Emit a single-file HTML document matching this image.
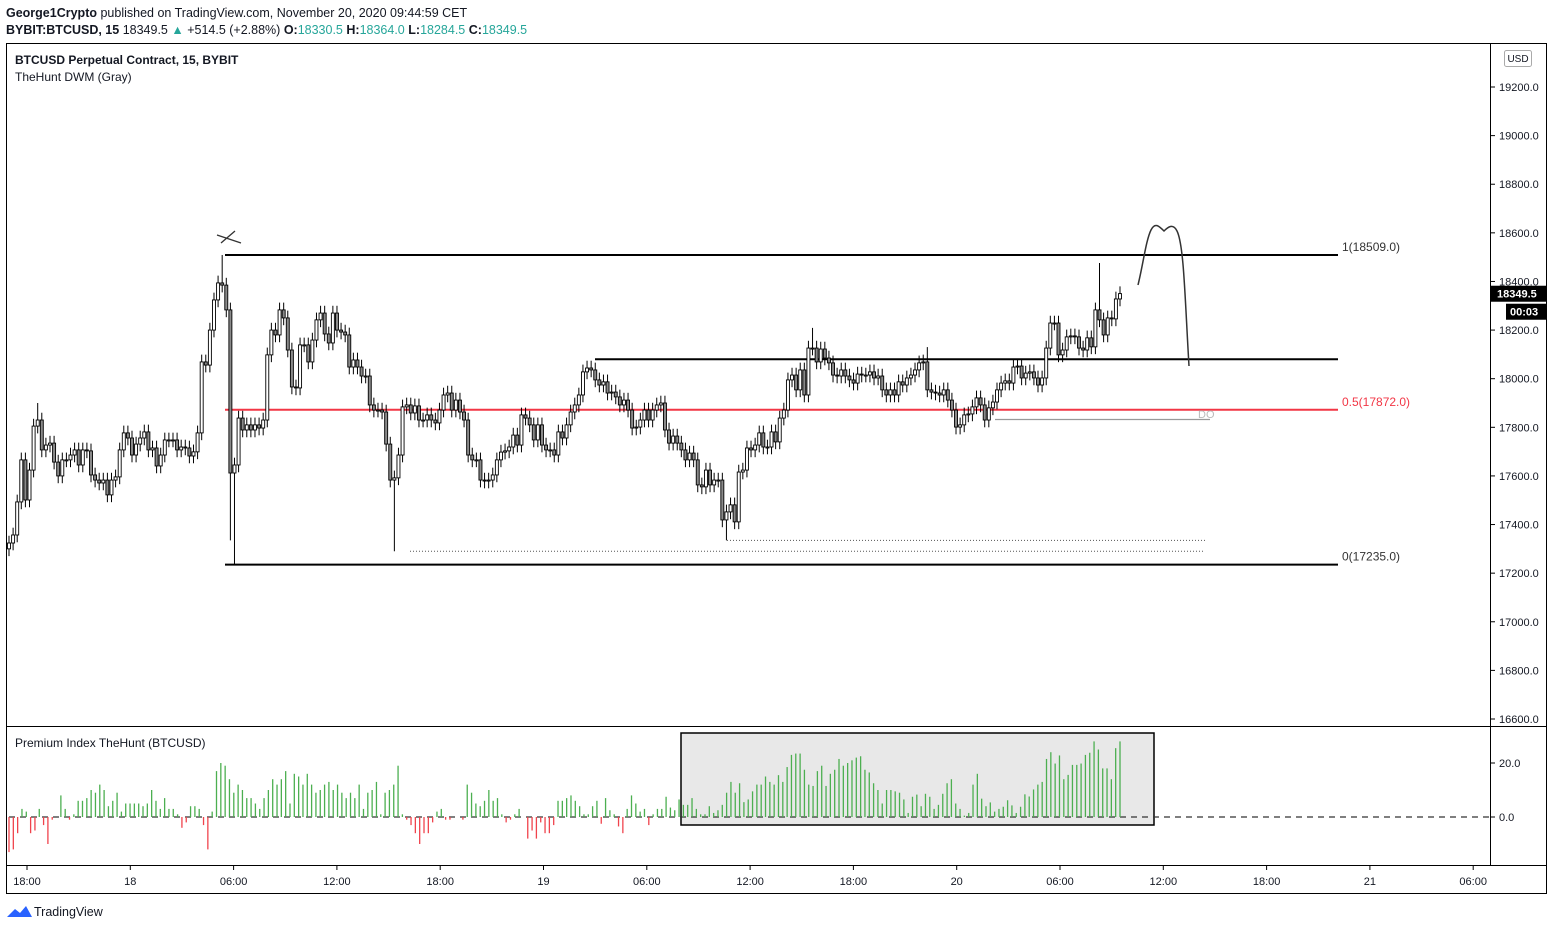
<!DOCTYPE html>
<html><head><meta charset="utf-8"><style>
body{margin:0;background:#fff;width:1553px;height:930px;overflow:hidden;font-family:"Liberation Sans",sans-serif;}
svg{position:absolute;left:0;top:0}
</style></head><body>
<svg id="c" width="1553" height="930" xmlns="http://www.w3.org/2000/svg">
<text x="6" y="17" font-size="12.5" fill="#131722"><tspan font-weight="bold">George1Crypto</tspan> published on TradingView.com, November 20, 2020 09:44:59 CET</text>
<text x="6" y="34" font-size="12.5" fill="#131722"><tspan font-weight="bold">BYBIT:BTCUSD, 15</tspan> 18349.5 <tspan fill="#26a69a">▲</tspan> +514.5 (+2.88%) <tspan font-weight="bold">O:</tspan><tspan fill="#26a69a">18330.5</tspan> <tspan font-weight="bold">H:</tspan><tspan fill="#26a69a">18364.0</tspan> <tspan font-weight="bold">L:</tspan><tspan fill="#26a69a">18284.5</tspan> <tspan font-weight="bold">C:</tspan><tspan fill="#26a69a">18349.5</tspan></text>
<rect x="6.5" y="43.5" width="1540" height="850" fill="none" stroke="#000" stroke-width="1"/>
<line x1="1490.5" y1="44" x2="1490.5" y2="865" stroke="#000"/>
<line x1="6" y1="726.5" x2="1547" y2="726.5" stroke="#000"/>
<line x1="6" y1="865.5" x2="1547" y2="865.5" stroke="#000"/>
<text x="15" y="64" font-size="12" font-weight="bold" fill="#131722">BTCUSD Perpetual Contract, 15, BYBIT</text>
<text x="15" y="81" font-size="12" fill="#131722">TheHunt DWM (Gray)</text>
<rect x="1504.5" y="50.5" width="27" height="16" fill="#fff" stroke="#aaa" rx="2"/>
<text x="1518" y="62" font-size="10" text-anchor="middle" fill="#131722">USD</text>
<text x="15" y="747" font-size="12" fill="#131722">Premium Index TheHunt (BTCUSD)</text>
<rect x="681" y="733" width="473" height="92" fill="#e8e8e8" stroke="#000" stroke-width="1.5"/>
<g id="g"></g>
<g>
<path d="M7 917 l8 -8 l5 4 l6 -7 l6 11 z" fill="#2962ff"/>
<text x="34" y="916" font-size="12.5" fill="#131722">TradingView</text>
</g>
</svg>
<script>
const closes=[17324,17357,17493,17666,17501,17624,17805,17830,17707,17727,17735,17657,17600,17666,17666,17686,17707,17645,17707,17703,17604,17583,17571,17583,17522,17583,17596,17707,17777,17756,17686,17731,17756,17781,17707,17715,17641,17686,17748,17748,17748,17707,17719,17715,17682,17699,17777,18069,18056,18200,18324,18394,18385,18283,17612,17645,17838,17789,17810,17789,17810,17797,17830,18098,18200,18180,18283,18250,18118,17966,17962,18139,18139,18069,18159,18242,18270,18184,18147,18270,18200,18192,18180,18048,18077,18048,18011,18011,17892,17871,17871,17863,17731,17583,17592,17686,17884,17892,17859,17888,17830,17830,17851,17830,17818,17871,17933,17941,17871,17912,17863,17830,17686,17666,17666,17583,17579,17583,17604,17666,17698,17703,17719,17768,17727,17851,17838,17810,17748,17810,17727,17707,17707,17686,17781,17756,17810,17863,17892,17933,18028,18044,18036,17995,17974,17987,17941,17945,17925,17892,17912,17871,17797,17801,17830,17871,17830,17871,17892,17900,17789,17735,17764,17735,17707,17666,17694,17666,17563,17555,17624,17563,17583,17583,17419,17452,17481,17411,17616,17624,17715,17707,17727,17777,17719,17719,17781,17740,17838,17871,17995,18015,17954,18036,17933,18126,18126,18069,18122,18085,18065,18015,18011,18036,18011,17995,17982,18019,18015,18015,18028,18003,18011,17954,17933,17954,17933,17987,17974,18003,18015,18036,18065,18069,17954,17945,17941,17933,17954,17912,17871,17801,17810,17851,17855,17884,17921,17892,17830,17880,17904,17954,17982,17991,17982,18048,18052,18003,18023,18028,18003,17974,18003,18126,18229,18229,18098,18118,18172,18176,18172,18126,18118,18168,18131,18283,18242,18180,18250,18246,18328,18350];
const firstOpen=17300;
const wick=30;
const specialHighs={7:17900,52:18509,196:18209,224:18130,266:18476};
const specialLows={54:17335,55:17235,94:17290,175:17335};
const premium=[-13,-12,-6,3,2,-6,-5,3,-3,-10,-1,0,8,3,-1,1,6,6,7,10,9,12,10,4,6,9,2,5,5,5,5,4,5,10,6,3,7,3,3,1,-4,-2,4,4,3,-3,-12,2,17,20,19,14,9,12,10,7,7,5,3,7,10,14,12,14,17,5,16,15,12,16,12,9,10,12,13,10,12,9,7,9,7,12,3,9,10,13,1,9,10,12,19,1,-1,-3,-6,-10,-6,-6,-2,2,3,-1,-1,0,0,-1,12,9,5,4,6,10,6,7,1,-2,-1,1,3,0,-8,-5,-8,-2,-6,-6,-3,6,6,7,8,6,4,1,1,4,6,-2.5,7,2.5,1,-3.5,-6,3,8,5,2,3,-3,1,3,3,7.5,3.5,2.5,6.5,4.5,4.5,7,3,1,1,4,1.5,2.5,4.5,9,13,9,12.5,5.5,6.5,9.5,12,12,15,13,12,15.5,13,18.5,23,23.5,23.5,17.5,12,11.5,17,19,11.5,16,17.5,21.5,19,20,21,22,22.5,17.5,16.5,12.5,10,5,10,10,9.5,9,6.5,1.5,7.5,8.3,4,8.6,7.5,3,4.5,8.6,12.5,14,5,3,0.5,1.5,12,16,6.8,4,5.4,2,3,3.8,6.2,4.3,1.5,3.8,8.4,7.6,10.2,12,13,21.5,24,19.8,22.8,14,15.6,19.3,19.3,19.8,23,23.8,28,25,18,18,14,25.5,28];
const priceTicks=[19200,19000,18800,18600,18400,18200,18000,17800,17600,17400,17200,17000,16800,16600];
const premiumTicks=[20,0];
const timeLabels=["18:00","18","06:00","12:00","18:00","19","06:00","12:00","18:00","20","06:00","12:00","18:00","21","06:00"];
const levels=[{p:18509,label:"1(18509.0)",c:"#000",x1:225},{p:18080,label:"",c:"#000",x1:595},{p:17872,label:"0.5(17872.0)",c:"#f23645",x1:225},{p:17235,label:"0(17235.0)",c:"#000",x1:225}];
const lastPrice=18349.5;

const NS="http://www.w3.org/2000/svg";
const g=document.getElementById('g');
function el(t,a,txt){const e=document.createElementNS(NS,t);for(const k in a)e.setAttribute(k,a[k]);if(txt!==undefined)e.textContent=txt;g.appendChild(e);return e;}
const yP=p=>87+(19200-p)*(632/2600);
const xC=i=>9+i*(1111/(closes.length-1));
const xI=i=>9+i*(1111/(premium.length-1));
const yI=v=>817-v*2.7;
const xT=i=>27+i*103.3;

// price ticks
priceTicks.forEach(p=>{const y=yP(p);
const t=el('line',{x1:1490,x2:1495,y1:y,y2:y,stroke:'#000'});


const l=el('text',{x:1499,y:y+4,'font-size':11,fill:'#131722'},p.toFixed(1));

});
premiumTicks.forEach(v=>{const y=yI(v);
const t=el('line',{x1:1490,x2:1495,y1:y,y2:y,stroke:'#000'});


const l=el('text',{x:1499,y:y+4,'font-size':11,fill:'#131722'},v.toFixed(1));

});
timeLabels.forEach((s,i)=>{const x=xT(i);
const t=el('line',{x1:x,x2:x,y1:865,y2:870,stroke:'#000'});


const l=el('text',{x:x,y:885,'font-size':11,fill:'#131722','text-anchor':'middle'},s);

});

// levels
levels.forEach(L=>{const y=yP(L.p);
const ln=el('line',{x1:L.x1,x2:1338,y1:y,y2:y,stroke:L.c,'stroke-width':2});


if(L.label){const t=el('text',{x:1342,y:y-4,'font-size':12,fill:L.c==='#000'?'#333':L.c},L.label);

}});
// dotted lines & DO
[[17290,410],[17335,727]].forEach(a=>{const y=yP(a[0]);
const d=el('line',{x1:a[1],x2:1205,y1:y,y2:y,stroke:'#555','stroke-width':1,'stroke-dasharray':'1,2'});

});
const dl=el('line',{x1:995,x2:1210,y1:419.5,y2:419.5,stroke:'#999','stroke-width':1.2});


const dt=el('text',{x:1198,y:418,'font-size':11,fill:'#bbb'},'DO');


const xm=el('path',{d:'M217 235 L241 243 M221 243 L235 231',stroke:'#333','stroke-width':1.3,fill:'none'});


const cv=el('path',{d:'M1138 285 C1143 265 1146 240 1151 230 C1155 222 1159 226 1164 231 C1168 227 1173 223 1177 231 C1184 245 1185 300 1189 366',stroke:'#333','stroke-width':1.5,fill:'none'});



// candles
let prev=firstOpen;
closes.forEach((c,i)=>{const o=prev;prev=c;const x=xC(i);
const hi=specialHighs[i]!==undefined?specialHighs[i]:Math.max(o,c)+wick;
const lo=specialLows[i]!==undefined?specialLows[i]:Math.min(o,c)-wick;
const w=el('line',{x1:x,x2:x,y1:yP(hi),y2:yP(lo),stroke:'#000','stroke-width':1});


const top=yP(Math.max(o,c)),bot=yP(Math.min(o,c));
const b=el('rect',{x:x-1.5,y:top,width:3,height:Math.max(1,bot-top),fill:c>=o?'#fff':'#8a8a8a',stroke:'#000','stroke-width':0.9});

});

// last price
const ly=yP(lastPrice);
const lr=el('rect',{x:1491,y:ly-8,width:56,height:16,fill:'#000'});


const lt=el('text',{x:1497,y:ly+4,'font-size':11,'font-weight':'bold',fill:'#fff'},lastPrice.toFixed(1));


const cr=el('rect',{x:1506,y:ly+10,width:41,height:16,fill:'#000'});


const ct=el('text',{x:1510,y:ly+22,'font-size':11,'font-weight':'bold',fill:'#fff'},'00:03');



// premium histogram
const zl=el('line',{x1:9,x2:1490,y1:yI(0),y2:yI(0),stroke:'#333','stroke-width':1.2,'stroke-dasharray':'6,5'});


premium.forEach((v,i)=>{const x=xI(i);
const b=el('line',{x1:x,x2:x,y1:yI(0),y2:yI(v),stroke:v>=0?'#4caf50':'#f0434c','stroke-width':1.3});

});
</script>
</body></html>
